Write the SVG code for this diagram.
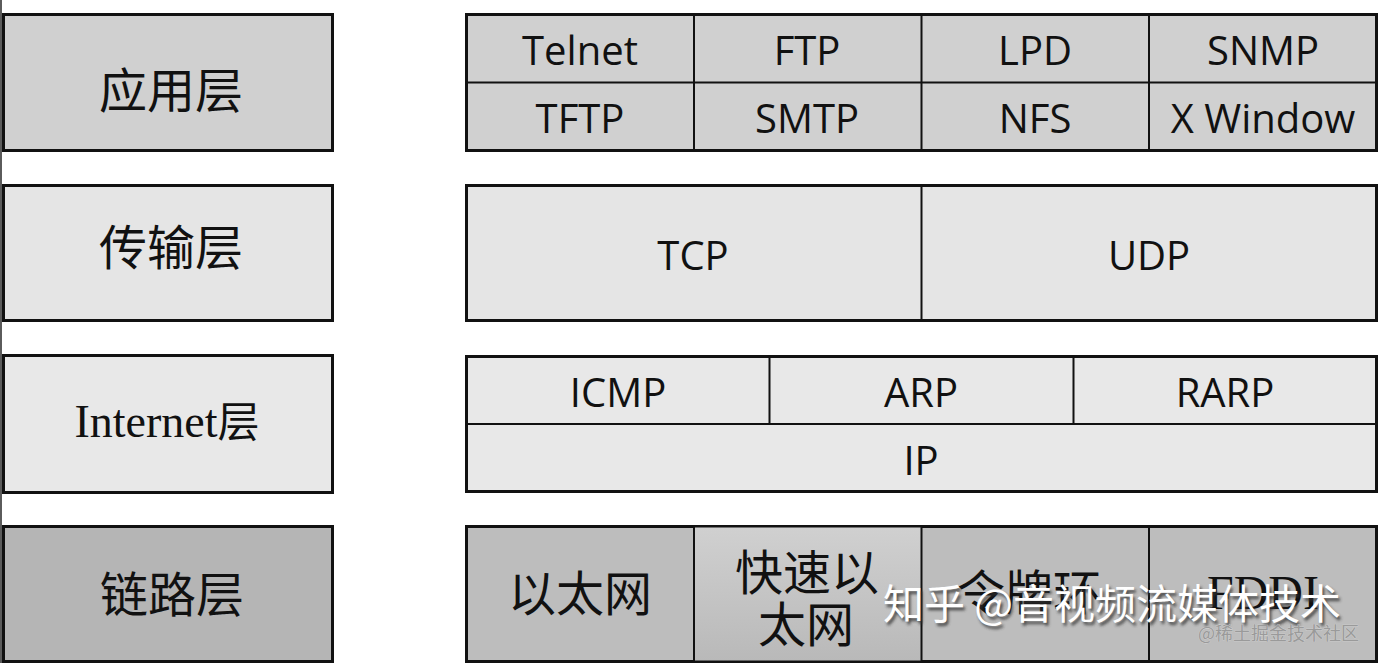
<svg xmlns="http://www.w3.org/2000/svg" width="1378" height="663" viewBox="0 0 1378 663">
<defs>
<linearGradient id="fastGrad" x1="0" y1="0" x2="0" y2="1">
<stop offset="0" stop-color="#d0d0d0"/>
<stop offset="1" stop-color="#b9b9b9"/>
</linearGradient>
<filter id="shadow" x="-5%" y="-30%" width="110%" height="160%">
<feGaussianBlur stdDeviation="1.5"/>
</filter>
</defs>
<style>
.box{stroke:#111;stroke-width:3}
.div{stroke:#111;stroke-width:2;fill:none}
.app{fill:#d0d0d0}
.tr{fill:#e5e5e5}
.inet{fill:#e8e8e8}
.link{fill:#b5b5b5}
.linkc{fill:#bdbdbd}
.cn{font-family:"Liberation Serif","Noto Sans CJK SC",serif;font-size:48px;fill:#111;text-anchor:middle}
.en{font-family:"Open Sans","Noto Sans",sans-serif;font-size:40px;fill:#111;text-anchor:middle}
.wm{font-family:"Noto Sans CJK SC",sans-serif;font-size:41px;fill:#fff}
.wms{font-family:"Noto Sans CJK SC",sans-serif;font-size:41px;fill:#333;opacity:0.85}
.wm2{font-family:"Noto Sans CJK SC",sans-serif;font-size:18px;fill:#9a9a9a;stroke:#d8d8d8;stroke-width:0.6;paint-order:stroke}
</style>
<rect width="1378" height="663" fill="#ffffff"/>
<line x1="1" y1="0" x2="1" y2="663" stroke="#333" stroke-width="1.6"/>

<g id="app-layer">
<rect class="box app" x="3.5" y="14.5" width="329" height="136"/>
<text class="cn" x="171" y="108">应用层</text>
</g>
<g id="transport-layer">
<rect class="box tr" x="3.5" y="185.5" width="329" height="135"/>
<text class="cn" x="171" y="265">传输层</text>
</g>
<g id="internet-layer">
<rect class="box inet" x="3.5" y="355.5" width="329" height="137"/>
<text class="cn" x="167" y="437"><tspan font-size="46">Internet</tspan><tspan font-size="42">层</tspan></text>
</g>
<g id="link-layer">
<rect class="box link" x="3.5" y="526.5" width="329" height="135"/>
<text class="cn" x="172" y="612">链路层</text>
</g>

<g id="app-protocols">
<rect class="box app" x="466.5" y="14.5" width="910" height="136"/>
<line class="div" x1="466" y1="82.5" x2="1377" y2="82.5"/>
<line class="div" x1="694" y1="14" x2="694" y2="151"/>
<line class="div" x1="921.5" y1="14" x2="921.5" y2="151"/>
<line class="div" x1="1149" y1="14" x2="1149" y2="151"/>
<text class="en" x="580" y="65">Telnet</text>
<text class="en" x="807" y="65">FTP</text>
<text class="en" x="1035" y="65">LPD</text>
<text class="en" x="1263" y="65">SNMP</text>
<text class="en" x="580" y="133">TFTP</text>
<text class="en" x="807" y="133">SMTP</text>
<text class="en" x="1035" y="133">NFS</text>
<text class="en" x="1263" y="133">X Window</text>
</g>

<g id="transport-protocols">
<rect class="box tr" x="466.5" y="185.5" width="910" height="135"/>
<line class="div" x1="921.5" y1="185" x2="921.5" y2="321"/>
<text class="en" x="693" y="270">TCP</text>
<text class="en" x="1149" y="270">UDP</text>
</g>

<g id="internet-protocols">
<rect class="box inet" x="466.5" y="356.5" width="910" height="135"/>
<line class="div" x1="466" y1="424" x2="1377" y2="424"/>
<line class="div" x1="769.5" y1="356" x2="769.5" y2="424"/>
<line class="div" x1="1073.5" y1="356" x2="1073.5" y2="424"/>
<text class="en" x="618" y="407">ICMP</text>
<text class="en" x="921" y="407">ARP</text>
<text class="en" x="1225" y="407">RARP</text>
<text class="en" x="921" y="475">IP</text>
</g>

<g id="link-protocols">
<rect class="box linkc" x="466.5" y="526.5" width="910" height="135"/>
<rect x="695" y="527.5" width="226" height="133" fill="url(#fastGrad)"/>
<line class="div" x1="694" y1="526" x2="694" y2="662"/>
<line class="div" x1="921.5" y1="526" x2="921.5" y2="662"/>
<line class="div" x1="1149" y1="526" x2="1149" y2="662"/>
<text class="cn" x="580" y="611">以太网</text>
<text class="cn" x="807" y="590" font-size="45">快速以</text>
<text class="cn" x="806" y="642" font-size="45">太网</text>
<text class="cn" x="1029" y="610">令牌环</text>
<text class="cn" x="1263" y="609" font-size="50">FDDI</text>
</g>

<g id="watermark">
<text class="wms" x="885" y="622" filter="url(#shadow)">知乎 @音视频流媒体技术</text>
<text class="wm" x="883" y="619">知乎 @音视频流媒体技术</text>
<text class="wm2" x="1198" y="640">@稀土掘金技术社区</text>
</g>
</svg>
